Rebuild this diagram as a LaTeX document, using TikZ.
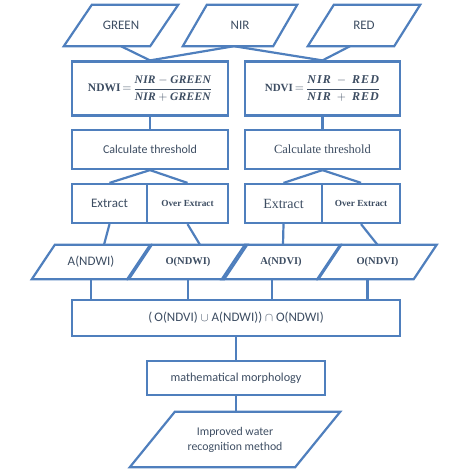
\documentclass[tikz,border=0pt]{standalone}
\usepackage{fontspec}
\usepackage{amsmath}
\setmainfont{Carlito}
\newfontfamily\serifx{Liberation Serif}
\newfontfamily\fracfontA[LetterSpace=2]{Liberation Serif}
\newfontfamily\fracfontB[LetterSpace=9]{Liberation Serif}
\definecolor{lineblue}{HTML}{4F7FBD}
\definecolor{txt}{HTML}{3D4D62}
\newcommand{\pgramshape}[8]{% name, cx, cy, w, h, half slant, font, text
  \node[ptext, font={#7}, minimum width=#4pt, minimum height=#5pt] (#1) at (#2,#3) {#8};
  \draw[conn, line join=miter]
    ([xshift=-#6pt]#1.south west) -- ([xshift=-#6pt]#1.south east) --
    ([xshift=#6pt]#1.north east) -- ([xshift=#6pt]#1.north west) -- cycle;
}
\newcommand{\fa}[1]{\text{\fracfontA\itshape\bfseries #1}}
\newcommand{\fb}[1]{\text{\fracfontB\itshape\bfseries #1}}
\begin{document}
\begin{tikzpicture}[x=1pt,y=-1pt,
  box/.style={draw=lineblue, line width=2.2pt, fill=white, text=txt, inner sep=0pt, rectangle, align=center},
  ptext/.style={text=txt, inner sep=0pt, rectangle, align=center},
  conn/.style={draw=lineblue, line width=2.2pt}]
\useasboundingbox (0,0) rectangle (474,474);

% top inputs
\pgramshape{green}{121}{25.5}{86}{41}{14}{\fontsize{13}{15}\selectfont}{GREEN}
\pgramshape{nir}{240}{25.5}{90}{41}{12}{\fontsize{13}{15}\selectfont}{NIR}
\pgramshape{red}{364}{25.5}{86}{41}{13}{\fontsize{13}{15}\selectfont}{RED}

% index boxes
\node[box, minimum width=156pt, minimum height=54pt, font=\serifx\fontsize{11.5}{13}\selectfont] (ndwi) at (150,88.5)
  {{\fontsize{11.5}{15}\selectfont\textbf{NDWI}}\,{\large$=$}\,$\dfrac{\fa{NIR} - \fa{GREEN}}{\fa{NIR} + \fa{GREEN}}$};
\node[box, minimum width=155pt, minimum height=54pt, font=\serifx\fontsize{12}{14}\selectfont] (ndvi) at (322.5,88.5)
  {{\fontsize{11}{15}\selectfont\textbf{NDVI}}\,{\large$=$}\,$\dfrac{\fb{NIR} \;-\; \fb{RED}}{\fb{NIR} \;+\; \fb{RED}}$};

\draw[conn] ([xshift=-6pt]nir.south) -- (ndwi.north);
\draw[conn] ([xshift=-6pt]nir.south) -- (ndvi.north);
\draw[conn] (green.south) -- (ndwi.north);
\draw[conn] ([xshift=-14pt]red.south) -- (ndvi.north);

% thresholds
\node[box, minimum width=156pt, minimum height=39pt, font=\fontsize{12}{14}\selectfont] (calcL) at (150,149.5)
  {Calculate threshold};
\node[box, minimum width=155pt, minimum height=39pt, font=\serifx\fontsize{12.5}{14}\selectfont] (calcR) at (322.5,149.5)
  {Calculate threshold};
\draw[conn] (ndwi.south) -- (calcL.north);
\draw[conn] (ndvi.south) -- (calcR.north);

% extract boxes
\node[box, minimum width=75pt, minimum height=39pt, font=\fontsize{13}{15}\selectfont] (exL) at (109.5,203.5)
  {Extract};
\node[box, minimum width=81pt, minimum height=39pt, font=\serifx\bfseries\fontsize{9.3}{11}\selectfont] (oexL) at (187.5,203.5)
  {Over Extract};
\node[box, minimum width=77pt, minimum height=39pt, font=\serifx\fontsize{14}{16}\selectfont] (exR) at (283.5,203.5)
  {Extract};
\node[box, minimum width=78pt, minimum height=39pt, font=\serifx\bfseries\fontsize{9.3}{11}\selectfont] (oexR) at (361,203.5)
  {Over Extract};
\draw[conn] (calcL.south) -- (exL.north);
\draw[conn] (calcL.south) -- (oexL.north);
\draw[conn] (calcR.south) -- (exR.north);
\draw[conn] (calcR.south) -- (oexR.north);

% result sets
\pgramshape{aw}{91}{262}{95}{34}{11.5}{\fontsize{13}{15}\selectfont}{A(NDWI)}
\pgramshape{ow}{188}{262}{95}{34}{11.5}{\serifx\bfseries\fontsize{10.5}{12}\selectfont}{O(NDWI)}
\pgramshape{av}{281}{262}{95}{34}{11.5}{\serifx\bfseries\fontsize{10.5}{12}\selectfont}{A(NDVI)}
\pgramshape{ov}{377.5}{262}{95}{34}{11.5}{\serifx\bfseries\fontsize{10.5}{12}\selectfont}{O(NDVI)}
\draw[conn] (exL.south) -- ([xshift=13pt]aw.north);
\draw[conn] (oexL.south) -- ([xshift=12pt]ow.north);
\draw[conn] (exR.south) -- ([xshift=2pt]av.north);
\draw[conn] (oexR.south) -- (ov.north);

% combination
\node[box, minimum width=328pt, minimum height=36pt, font=\fontsize{13}{15}\selectfont] (comb) at (236,318)
  {(\,O(NDVI) $\cup$ A(NDWI)) $\cap$ O(NDWI)};
\draw[conn] (aw.south) -- (aw.south |- comb.north);
\draw[conn] (ow.south) -- (ow.south |- comb.north);
\draw[conn] ([xshift=-9pt]av.south) -- ([xshift=-9pt]av.south |- comb.north);
\draw[conn] ([xshift=-10pt]ov.south) -- ([xshift=-10pt]ov.south |- comb.north);

% morphology
\node[box, minimum width=178pt, minimum height=34pt, font=\fontsize{12.2}{14}\selectfont] (mm) at (236,378)
  {mathematical morphology};
\draw[conn] (comb.south) -- (mm.north);

% output
\pgramshape{out}{235}{439.5}{165}{55}{22.5}{\fontsize{11.8}{15}\selectfont}{Improved water\\recognition method}
\draw[conn] (mm.south) -- (mm.south |- out.north);
\end{tikzpicture}
\end{document}
